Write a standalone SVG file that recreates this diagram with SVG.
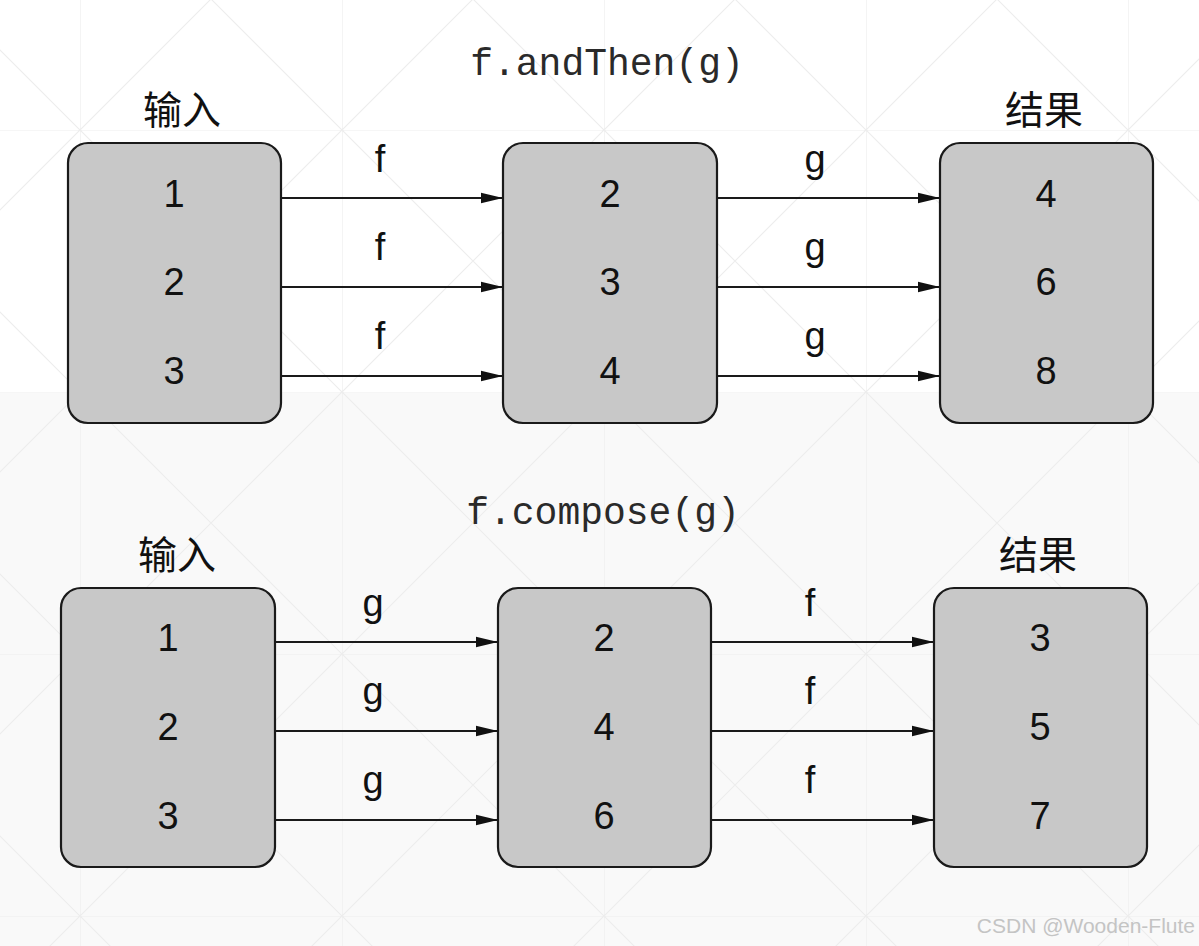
<svg xmlns="http://www.w3.org/2000/svg" width="1199" height="946" viewBox="0 0 1199 946">
<defs>
<pattern id="grid" x="80" y="130" width="262" height="262" patternUnits="userSpaceOnUse">
<path d="M0,0 H262 M0,0 V262 M0,0 L262,262 M262,0 L0,262" stroke="#ededed" stroke-width="1.2" fill="none"/>
</pattern>
<marker id="arr" markerUnits="userSpaceOnUse" markerWidth="23" markerHeight="12" refX="22" refY="6" orient="auto">
<path d="M0,0.8 L22,6 L0,11.2 Z" fill="#111"/>
</marker>
<style>
.box{fill:#c8c8c8;stroke:#1a1a1a;stroke-width:2.2}
.num{font-family:"Liberation Sans",Arial,sans-serif;font-size:38px;fill:#111;text-anchor:middle}
.lbl{font-family:"Liberation Sans",Arial,sans-serif;font-size:38px;fill:#111;text-anchor:middle}
.title{font-family:"Liberation Mono","Courier New",monospace;font-size:38px;fill:#2a2a2a;text-anchor:middle}
.cjk{font-family:"Noto Sans CJK SC","Noto Sans CJK JP",sans-serif;font-size:39px;fill:#111;text-anchor:middle}
.wire{stroke:#1a1a1a;stroke-width:2;fill:none;marker-end:url(#arr)}
.wm{font-family:"Liberation Sans",Arial,sans-serif;font-size:21px;fill:#c4c4c4;text-anchor:end}
</style>
</defs>
<rect x="0" y="0" width="1199" height="946" fill="#ffffff"/>
<rect x="0" y="393" width="1199" height="553" fill="#f9f9f9"/>
<rect x="0" y="0" width="1199" height="946" fill="url(#grid)"/>

<text class="title" x="607" y="75">f.andThen(g)</text>
<text class="cjk" x="182" y="124">输入</text>
<text class="cjk" x="1044" y="124">结果</text>

<text class="title" x="603" y="524">f.compose(g)</text>
<text class="cjk" x="177" y="569">输入</text>
<text class="cjk" x="1038" y="569">结果</text>

<g id="connectors">
<path class="wire" d="M281,198 H503"/>
<path class="wire" d="M281,287 H503"/>
<path class="wire" d="M281,376 H503"/>
<path class="wire" d="M717,198 H940"/>
<path class="wire" d="M717,287 H940"/>
<path class="wire" d="M717,376 H940"/>
<path class="wire" d="M275,642 H498"/>
<path class="wire" d="M275,731 H498"/>
<path class="wire" d="M275,820 H498"/>
<path class="wire" d="M711,642 H934"/>
<path class="wire" d="M711,731 H934"/>
<path class="wire" d="M711,820 H934"/>
<text class="lbl" x="380" y="172">f</text>
<text class="lbl" x="380" y="260">f</text>
<text class="lbl" x="380" y="349">f</text>
<text class="lbl" x="815" y="172">g</text>
<text class="lbl" x="815" y="260">g</text>
<text class="lbl" x="815" y="349">g</text>
<text class="lbl" x="373" y="616">g</text>
<text class="lbl" x="373" y="704">g</text>
<text class="lbl" x="373" y="793">g</text>
<text class="lbl" x="810" y="616">f</text>
<text class="lbl" x="810" y="704">f</text>
<text class="lbl" x="810" y="793">f</text>
</g>

<g id="top-input">
<rect class="box" x="68" y="143" width="213" height="280" rx="20"/>
<text class="num" x="174" y="207">1</text>
<text class="num" x="174" y="295">2</text>
<text class="num" x="174" y="384">3</text>
</g>
<g id="top-middle">
<rect class="box" x="503" y="143" width="214" height="280" rx="20"/>
<text class="num" x="610" y="207">2</text>
<text class="num" x="610" y="295">3</text>
<text class="num" x="610" y="384">4</text>
</g>
<g id="top-result">
<rect class="box" x="940" y="143" width="213" height="280" rx="20"/>
<text class="num" x="1046" y="207">4</text>
<text class="num" x="1046" y="295">6</text>
<text class="num" x="1046" y="384">8</text>
</g>

<g id="bottom-input">
<rect class="box" x="61" y="588" width="214" height="279" rx="20"/>
<text class="num" x="168" y="651">1</text>
<text class="num" x="168" y="740">2</text>
<text class="num" x="168" y="829">3</text>
</g>
<g id="bottom-middle">
<rect class="box" x="498" y="588" width="213" height="279" rx="20"/>
<text class="num" x="604" y="651">2</text>
<text class="num" x="604" y="740">4</text>
<text class="num" x="604" y="829">6</text>
</g>
<g id="bottom-result">
<rect class="box" x="934" y="588" width="213" height="279" rx="20"/>
<text class="num" x="1040" y="651">3</text>
<text class="num" x="1040" y="740">5</text>
<text class="num" x="1040" y="829">7</text>
</g>

<text class="wm" x="1195" y="933">CSDN @Wooden-Flute</text>
</svg>
